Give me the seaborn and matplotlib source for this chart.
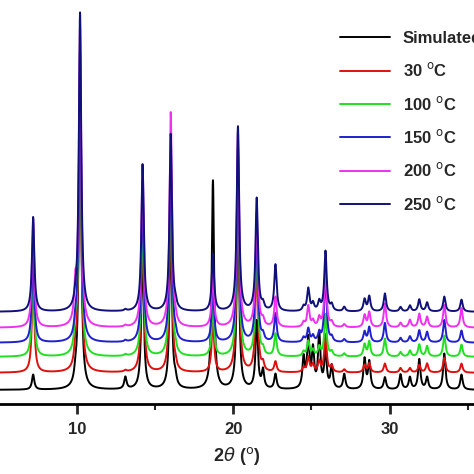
import numpy as np
import pandas as pd
import seaborn as sns
import matplotlib
matplotlib.use("Agg")
import matplotlib.pyplot as plt
from matplotlib.ticker import MultipleLocator

sns.set_style("white")
plt.rcParams['font.family'] = ['Liberation Sans', 'DejaVu Sans']

labels = ["Simulated", r"30 $^{\rm o}$C", r"100 $^{\rm o}$C", r"150 $^{\rm o}$C",
          r"200 $^{\rm o}$C", r"250 $^{\rm o}$C"]
colors = ["#000000", "#e01010", "#20e020", "#2020d0", "#f030f0", "#10107a"]
offsets = [0.93, 2.07, 3.13, 4.07, 5.07, 6.13]

peak_pos = [7.2, 9.9, 10.2, 13.1, 14.2, 16.0, 16.3, 18.7, 20.3, 21.5, 21.9, 22.7,
            24.5, 24.8, 25.1, 25.5, 25.9, 26.3, 27.1, 28.4, 28.7, 29.7, 30.7, 31.3,
            31.9, 32.4, 33.5, 34.6]
heights = [
    [1.0, 0.5, 20.5, 0.8, 9.5, 11.0, 0.5, 13.9, 12.5, 4.5, 1.2, 1.0,
     2.0, 3.2, 2.5, 3.6, 2.5, 1.5, 1.0, 2.0, 1.8, 0.8, 1.0, 0.8,
     2.0, 0.8, 2.4, 1.0],
    [6.5, 1.0, 19.5, 0.1, 10.5, 12.0, 0.3, 3.6, 14.0, 7.5, 0.5, 0.7,
     0.3, 1.0, 0.5, 0.7, 2.5, 0.4, 0.2, 0.5, 0.6, 0.6, 0.3, 0.3,
     0.5, 0.6, 1.0, 0.6],
    [6.2, 1.5, 19.0, 0.1, 9.8, 12.5, 0.3, 3.5, 13.5, 7.8, 0.4, 1.5,
     0.3, 1.0, 0.4, 0.6, 2.8, 0.3, 0.2, 0.8, 1.0, 1.2, 0.3, 0.4,
     0.8, 0.7, 1.4, 0.8],
    [6.3, 0.8, 19.5, 0.1, 10.0, 12.5, 0.3, 3.7, 13.0, 7.6, 0.4, 1.9,
     0.3, 0.9, 0.4, 0.6, 4.5, 0.3, 0.2, 0.7, 1.0, 1.3, 0.3, 0.4,
     0.8, 0.7, 1.5, 0.8],
    [7.2, 2.2, 20.0, 0.1, 10.8, 14.3, 0.3, 3.6, 13.0, 7.6, 0.4, 2.0,
     0.3, 1.4, 0.4, 0.6, 3.8, 0.3, 0.2, 0.8, 1.0, 1.6, 0.3, 0.5,
     0.9, 0.7, 1.5, 1.3],
    [6.3, 0.4, 19.9, 0.1, 9.8, 11.8, 0.3, 3.8, 12.3, 7.5, 0.4, 3.1,
     0.3, 1.5, 0.5, 0.6, 4.0, 0.4, 0.3, 0.8, 1.0, 1.2, 0.3, 0.4,
     0.8, 0.6, 1.0, 0.8],
]

x = np.linspace(5.0, 35.5, 6000)
hw = 0.09

fig = plt.figure(figsize=(4.74, 4.74), dpi=100)
ax = fig.add_axes([0.0, 0.148, 1.0, 0.852])
for lab, col, off, hts in zip(labels, colors, offsets, heights):
    y = np.full_like(x, off)
    for p, h in zip(peak_pos, hts):
        y = y + h / (1 + ((x - p) / hw) ** 2)
    sns.lineplot(x=x, y=y, color=col, lw=1.4, ax=ax, label=lab)

ax.set_xlim(5.08, 35.4)
ax.set_ylim(0, 26.9)
ax.set_yticks([])
for s in ["top", "right", "left"]:
    ax.spines[s].set_visible(False)
ax.spines["bottom"].set_linewidth(2)
ax.spines["bottom"].set_color("black")
ax.xaxis.set_major_locator(MultipleLocator(10))
ax.xaxis.set_minor_locator(MultipleLocator(5))
ax.tick_params(axis="x", which="major", direction="out", length=7, width=2, bottom=True,
               labelsize=12, pad=6)
ax.tick_params(axis="x", which="minor", direction="out", length=4, width=1.5, bottom=True)
for t in ax.get_xticklabels():
    t.set_fontweight("bold")
ax.set_xlabel(r"2$\theta$ ($^{\rm o}$)", fontsize=13, fontweight="bold", labelpad=6)

leg = ax.legend(loc="upper left", bbox_to_anchor=(0.685, 0.96), frameon=False,
                fontsize=12, handlelength=3.0, labelspacing=0.92, handletextpad=0.8)
for t in leg.get_texts():
    t.set_fontweight("bold")

fig.savefig("out.png", dpi=100)
